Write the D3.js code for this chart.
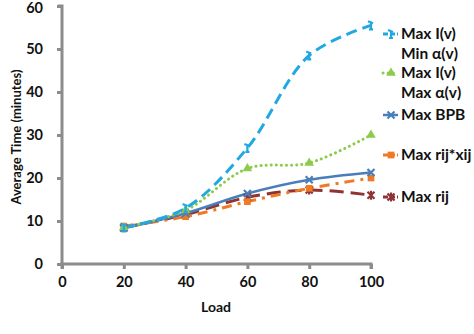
<!DOCTYPE html>
<html><head><meta charset="utf-8">
<script src="https://cdn.jsdelivr.net/npm/d3@7"></script>
<style>
html,body{margin:0;padding:0;background:#fff;}
svg text{font-family:Lato,"Open Sans",sans-serif;font-weight:bold;fill:#111;}
</style></head>
<body><svg id="chart" width="474" height="334"></svg>
<script>
const loads = [20, 40, 60, 80, 100];
const xTicks = [0, 20, 40, 60, 80, 100];
const yTicks = [0, 10, 20, 30, 40, 50, 60];
const seriesNames = [["Max I(v)", "Min \u03b1(v)"], ["Max I(v)", "Max \u03b1(v)"], ["Max BPB"], ["Max rij*xij"], ["Max rij"]];
const maxIvMinA = [8.5, 13, 27, 48.5, 55.5];
const maxIvMaxA = [8.5, 12.5, 22.2, 23.5, 30];
const maxBPB = [8.3, 11.8, 16.4, 19.6, 21.3];
const maxRijXij = [8.8, 11, 14.5, 17.6, 20];
const maxRij = [8.5, 11.5, 15.5, 17.2, 16];

const svg = d3.select("#chart");
const x = d3.scaleLinear().domain([0, 100]).range([62, 371]);
const y = d3.scaleLinear().domain([0, 60]).range([264, 6]);
const axisColor = "#8c8c8c";

// axes
const gy = svg.append("g").attr("transform", "translate(62,0)")
  .call(d3.axisLeft(y).tickValues(yTicks).tickSize(5).tickPadding(8));
const gx = svg.append("g").attr("transform", "translate(0,264)")
  .call(d3.axisBottom(x).tickValues(xTicks).tickSize(5).tickPadding(8));
[gy, gx].forEach(g => {
  g.select(".domain").attr("stroke", axisColor).attr("stroke-width", 3);
  g.selectAll(".tick line").attr("stroke", axisColor).attr("stroke-width", 3);
  g.selectAll(".tick text").style("font-size", "14.5px").attr("fill", "#111");
});
gy.select(".domain").attr("d", `M-4,${y(60)}H0V${y(0)}`);
gx.select(".domain").attr("d", `M${x(0)},5V0H${x(100)}V5`);
gy.selectAll(".tick text").attr("dx", "-6");
gy.selectAll(".tick").filter(d => d === 60).select("text").attr("dy", "0.42em");

svg.append("text").attr("x", 216).attr("y", 312).attr("text-anchor", "middle")
  .style("font-size", "14px").text("Load");
svg.append("text").attr("transform", "translate(21,137) rotate(-90)").attr("text-anchor", "middle")
  .style("font-size", "13px").text("Average Time (minutes)");

// markers
function xPath(s){return `M${-s},${-s}L${s},${s}M${-s},${s}L${s},${-s}`;}
function starPath(s){return xPath(s) + `M0,${-s*1.3}L0,${s*1.3}`;}
const styles = [
  {data: maxIvMinA, color: "#20A8E0", dash: "11,6", width: 3, cap: "butt", marker: "cross"},
  {data: maxIvMaxA, color: "#8DCB4B", dash: "0.1,5", width: 3, cap: "round", marker: "tri"},
  {data: maxBPB, color: "#4A7EBB", dash: null, width: 2.5, cap: "butt", marker: "x"},
  {data: maxRijXij, color: "#EE7A25", dash: "10,6,3,6", width: 3, cap: "butt", marker: "sq"},
  {data: maxRij, color: "#8E3434", dash: "14,7", width: 3, cap: "butt", marker: "star"}
];
function drawMarker(g, type, color){
  if (type === "tri") g.append("path").attr("d", d3.symbol(d3.symbolTriangle, 40)()).attr("fill", color);
  else if (type === "sq") g.append("path").attr("d", d3.symbol(d3.symbolSquare, 45)()).attr("fill", color);
  else if (type === "x") g.append("path").attr("d", xPath(3.5)).attr("stroke", color).attr("stroke-width", 2.2).attr("fill", "none");
  else if (type === "star") g.append("path").attr("d", starPath(3.5)).attr("stroke", color).attr("stroke-width", 2.2).attr("fill", "none");
  else g.append("path").attr("d", "M-3,-4L2,-2M0,-3L0,4M-2,4L2,4").attr("stroke", color).attr("stroke-width", 2.2).attr("fill", "none");
}
const line = d3.line().x((d, i) => x(loads[i])).y(d => y(d)).curve(d3.curveCatmullRom.alpha(0.5));
const order = [4, 3, 2, 1, 0];
order.forEach(k => {
  const s = styles[k];
  svg.append("path").attr("d", line(s.data)).attr("fill", "none").attr("stroke", s.color)
    .attr("stroke-width", s.width).attr("stroke-dasharray", s.dash).attr("stroke-linecap", s.cap);
});
order.forEach(k => {
  const s = styles[k];
  s.data.forEach((v, i) => drawMarker(svg.append("g").attr("transform", `translate(${x(loads[i])},${y(v)})`), s.marker, s.color));
});

// legend
const legendY = [34, 73, 115, 155, 197];
styles.forEach((s, k) => {
  const ly = legendY[k];
  svg.append("line").attr("x1", 383).attr("x2", 398).attr("y1", ly).attr("y2", ly)
    .attr("stroke", s.color).attr("stroke-width", s.width).attr("stroke-dasharray", s.dash ? (k === 1 ? "0.1,5" : "5,2") : null)
    .attr("stroke-linecap", s.cap);
  drawMarker(svg.append("g").attr("transform", `translate(391,${ly})`), s.marker, s.color);
  seriesNames[k].forEach((t, j) => {
    svg.append("text").attr("x", 401).attr("y", ly + j * 19.5).attr("dy", "0.35em")
      .style("font-size", "15.5px").text(t);
  });
});
</script></body></html>
